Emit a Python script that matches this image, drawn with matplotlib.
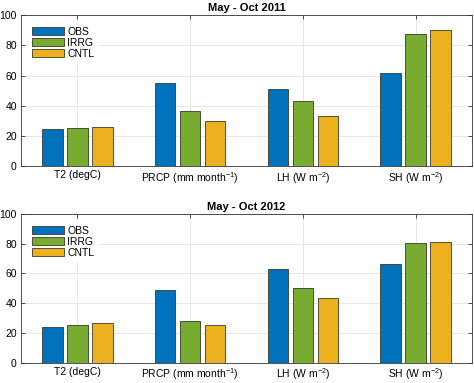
import matplotlib
matplotlib.use("Agg")
import matplotlib.pyplot as plt
import numpy as np

plt.rcParams['font.family'] = ['Liberation Sans', 'DejaVu Sans']
plt.rcParams['mathtext.default'] = 'regular'

variables = ["T2 (degC)", "PRCP (mm month$^{-1}$)", "LH (W m$^{-2}$)", "SH (W m$^{-2}$)"]
series = ["OBS", "IRRG", "CNTL"]
colors = ["#0072BD", "#77AC30", "#EDB120"]

obs_2011 = [24.5, 54.9, 50.9, 61.5]
irrg_2011 = [24.9, 36.7, 43.3, 87.3]
cntl_2011 = [26.0, 30.0, 32.9, 90.2]

obs_2012 = [24.0, 48.6, 63.2, 66.1]
irrg_2012 = [25.2, 28.1, 50.0, 80.7]
cntl_2012 = [26.3, 25.4, 43.8, 81.3]

panels = [
    ("May - Oct 2011", [obs_2011, irrg_2011, cntl_2011]),
    ("May - Oct 2012", [obs_2012, irrg_2012, cntl_2012]),
]

fig = plt.figure(figsize=(4.74, 3.83), dpi=100)
positions = [[0.0443, 0.5666, 0.9515, 0.3934],
             [0.0443, 0.0535, 0.9515, 0.3875]]

x = np.arange(1, len(variables) + 1)
offset = 0.222
width = 0.183

for pos, (title, data) in zip(positions, panels):
    ax = fig.add_axes(pos)
    for i, (name, vals) in enumerate(zip(series, data)):
        ax.bar(x + (i - 1) * offset, vals, width, color=colors[i],
               edgecolor="#3a3a2a", linewidth=0.6, label=name, zorder=3)
    ax.set_xlim(0.5, 4.5)
    ax.set_ylim(0, 100)
    ax.set_xticks(x)
    ax.set_xticklabels(variables)
    ax.set_yticks(np.arange(0, 101, 20))
    ax.grid(True, color="#e3e3e3", linewidth=0.6, zorder=0)
    ax.tick_params(direction="in", length=3, width=0.6, labelsize=7.5,
                   top=True, right=True, color="#333333", pad=3)
    for s in ax.spines.values():
        s.set_color("#333333")
        s.set_linewidth(0.6)
    ax.set_title(title, fontsize=8, fontweight="bold", pad=3)
    leg = ax.legend(loc="upper left", fontsize=7.5, frameon=True,
                    handlelength=3.0, handleheight=0.8, labelspacing=0.1,
                    borderaxespad=0.8, handletextpad=0.35, borderpad=0.3,
                    fancybox=False)
    leg.get_frame().set_edgecolor("white")
    leg.get_frame().set_facecolor("white")
    leg.get_frame().set_alpha(1)
    leg.set_zorder(5)

fig.savefig("out.png", dpi=100)
